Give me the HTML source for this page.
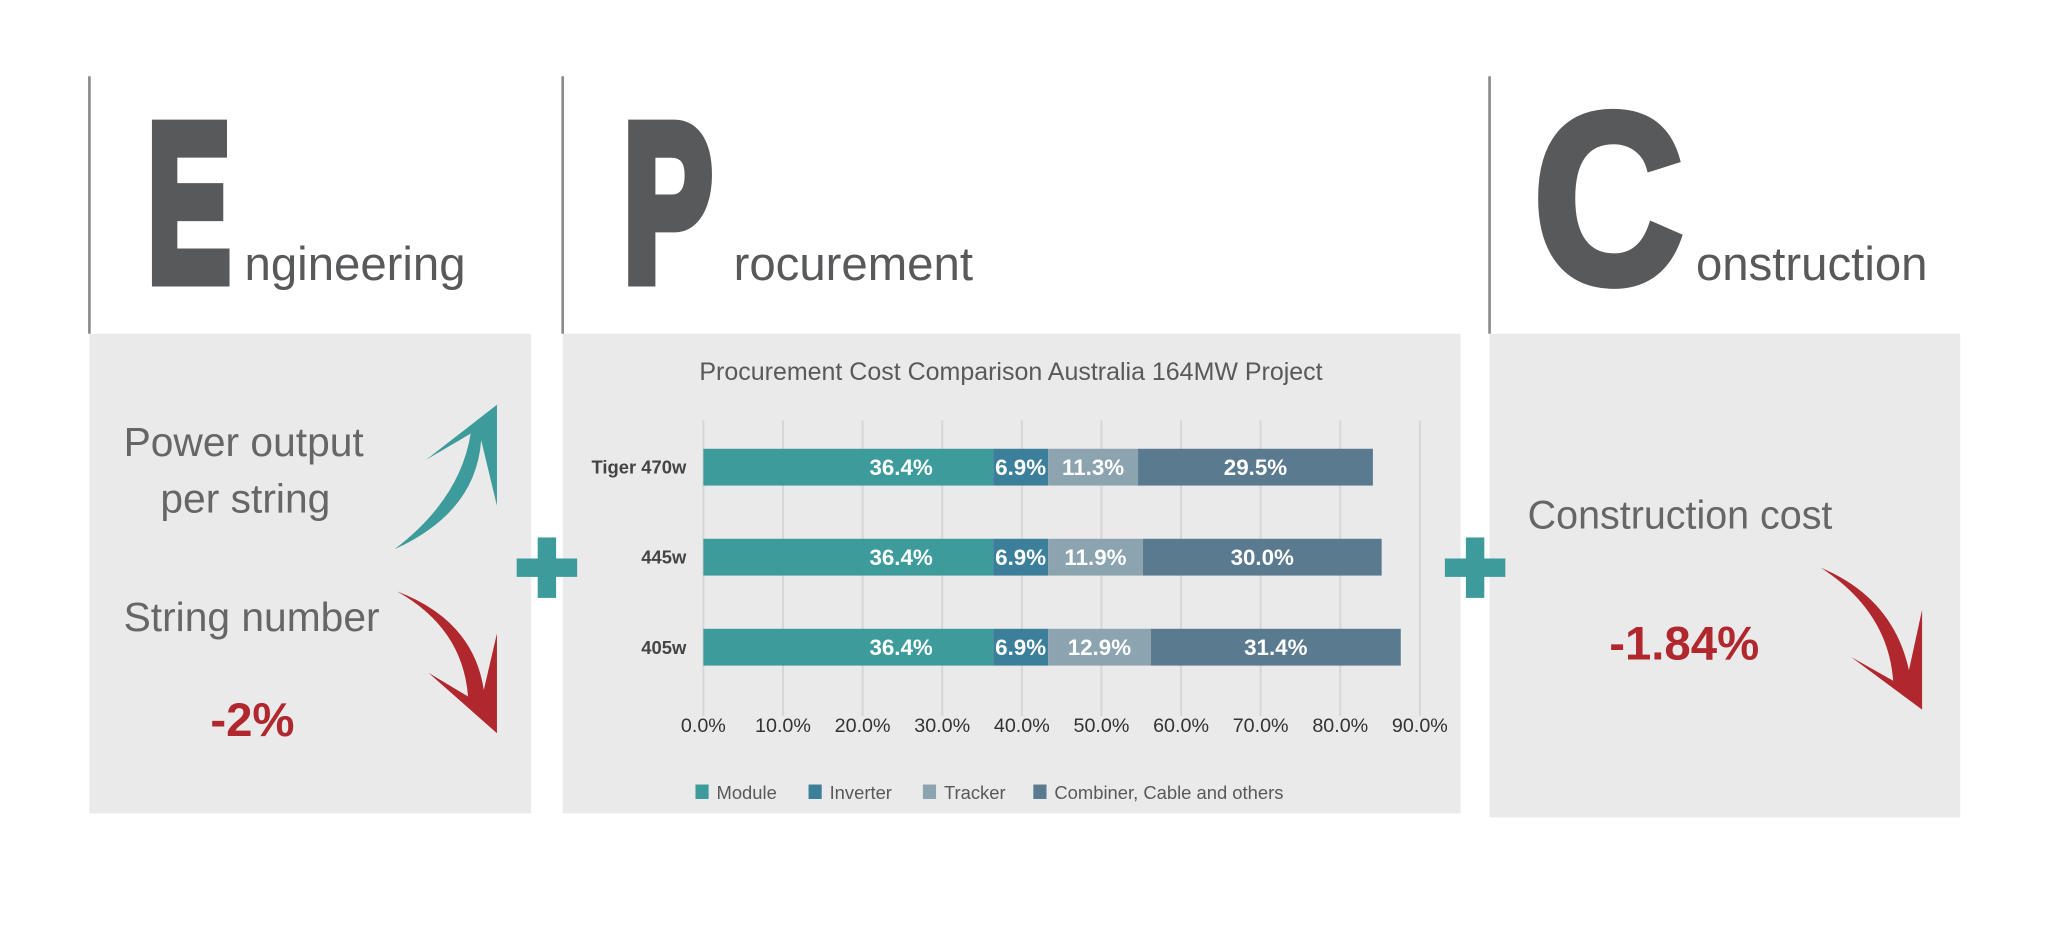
<!DOCTYPE html>
<html><head><meta charset="utf-8"><style>
html,body{margin:0;padding:0;background:#fff;width:2051px;height:933px;overflow:hidden;font-family:"Liberation Sans",sans-serif;}
#stage{position:absolute;left:0;top:0;width:1560px;height:710px;transform:scale(1.3147,1.3141);transform-origin:0 0;}
.abs{position:absolute;}
.vline{position:absolute;width:2px;background:#8a8a8a;top:58px;height:196px;}
.panel{position:absolute;background:#ebeaea;}
.big{position:absolute;font-weight:bold;color:#58595b;font-size:170px;line-height:1;transform-origin:0 0;-webkit-text-stroke:10px #58595b;}
.word{position:absolute;color:#58595b;font-size:36px;line-height:1;}
.txt{position:absolute;color:#666;font-size:31px;line-height:1;white-space:nowrap;}
.red{position:absolute;color:#b0282e;font-weight:bold;font-size:36px;line-height:1;}
.plus{position:absolute;}
.plus:before,.plus:after{content:"";position:absolute;background:#3d9b9b;}
.plus:before{left:16px;top:0;width:14px;height:46px;}
.plus:after{left:0;top:16px;width:46px;height:14px;}
</style></head><body>
<div id="stage">
<div class="vline" style="left:67px"></div>
<div class="vline" style="left:427px"></div>
<div class="vline" style="left:1132px"></div>

<div class="big" style="left:112px;top:70px;transform:scaleX(0.56)">E</div>
<div class="word" style="left:186px;top:183px">ngineering</div>
<div class="big" style="left:474px;top:70px;transform:scaleX(0.6)">P</div>
<div class="word" style="left:558px;top:183px">rocurement</div>
<div class="big" style="left:1166px;top:60px;font-size:185px;transform:scaleX(0.86);-webkit-text-stroke:6px #58595b">C</div>
<div class="word" style="left:1290px;top:183px">onstruction</div>

<div class="panel" style="left:68px;top:254px;width:336px;height:365px"></div>
<div class="panel" style="left:428px;top:254px;width:683px;height:365px"></div>
<div class="panel" style="left:1133px;top:254px;width:358px;height:368px"></div>

<div class="txt" style="left:94px;top:321px">Power output</div>
<div class="txt" style="left:122px;top:364px">per string</div>
<div class="txt" style="left:94px;top:454px">String number</div>
<div class="red" style="left:160px;top:530px">-2%</div>
<div class="txt" style="left:1162px;top:378px;font-size:30px">Construction cost</div>
<div class="red" style="left:1224px;top:472px">-1.84%</div>

<svg class="abs" style="left:0;top:0" width="1560" height="710">
 <path d="M300,418 Q350,380 358,330 L324,350 L378,308 L378,385 L366,335 Q362,390 300,418 Z" fill="#3d9b9b"/>
 <path d="M302,450 Q352,478 356,530 L326,512 L378,558 L378,482 L368,525 Q360,472 302,450 Z" fill="#b0282e"/>
 <path d="M1385,432 Q1436,465 1440,518 L1408,500 L1462,540 L1462,464 L1452,510 Q1440,455 1385,432 Z" fill="#b0282e"/>
</svg>
<div class="plus" style="left:393px;top:409px;width:46px;height:46px"></div>
<div class="plus" style="left:1099px;top:409px;width:46px;height:46px"></div>

<svg id="chart" class="abs" style="left:0;top:0" width="1560" height="710"></svg>
</div>
<script>
const categories = ["Tiger 470w","445w","405w"];
const seriesNames = ["Module","Inverter","Tracker","Combiner, Cable and others"];
const moduleVals = [36.4,36.4,36.4];
const inverterVals = [6.9,6.9,6.9];
const trackerVals = [11.3,11.9,12.9];
const combinerVals = [29.5,30.0,31.4];
const tickVals = [0,10,20,30,40,50,60,70,80,90];
const colors = ["#3d9b9b","#3b7f9a","#8ca3b0","#5a7a8f"];
const NS="http://www.w3.org/2000/svg";
const svg=document.getElementById('chart');
const x0=535,pxPer=(1080-535)/90;
const xs=v=>x0+v*pxPer;
const yc=i=>355.5+i*68.5;
function mk(t,a,txt){const e=document.createElementNS(NS,t);for(const k in a)e.setAttribute(k,a[k]);if(txt!=null)e.textContent=txt;svg.appendChild(e);return e;}
let t=mk('text',{x:769,y:289,'text-anchor':'middle','font-size':19,fill:'#595959','font-family':'Liberation Sans, sans-serif'},'Procurement Cost Comparison Australia 164MW Project');


tickVals.forEach(v=>{
 const g=mk('line',{x1:xs(v),x2:xs(v),y1:320,y2:545,stroke:'#d6d6d6','stroke-width':1.5});
 
 
 const l=mk('text',{x:xs(v),y:557,'text-anchor':'middle','font-size':15,fill:'#333'},v.toFixed(1)+'%');
 
 
});
const all=[moduleVals,inverterVals,trackerVals,combinerVals];
categories.forEach((c,i)=>{
 const cl=mk('text',{x:522,y:yc(i)+5,'text-anchor':'end','font-size':14,'font-weight':'bold',fill:'#444'},c);
 
 
 let acc=0;
 all.forEach((s,j)=>{
  const v=s[i];
  const r=mk('rect',{x:xs(acc),y:yc(i)-14,width:xs(acc+v)-xs(acc),height:28,fill:colors[j]});
  
  
  const lx=j===0?xs(acc+v)-70:(xs(acc)+xs(acc+v))/2;
  const lt=mk('text',{x:lx,y:yc(i)+6,'text-anchor':'middle','font-size':17,'font-weight':'bold',fill:'#fff'},v.toFixed(1)+'%');
  
  
  acc+=v;
 });
});
const lgX=[529,615,702,786];
seriesNames.forEach((n,j)=>{
 const r=mk('rect',{x:lgX[j],y:597,width:10,height:11,fill:colors[j]});
 
 
 const l=mk('text',{x:lgX[j]+16,y:608,'font-size':14,fill:'#595959'},n);
 
 
});
</script>
</body></html>
